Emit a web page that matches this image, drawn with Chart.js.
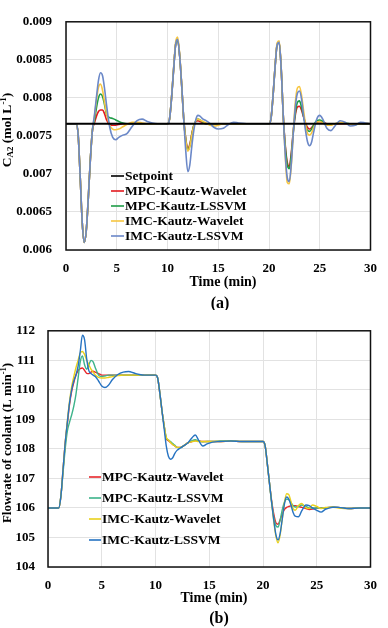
<!DOCTYPE html>
<html>
<head>
<meta charset="utf-8">
<script src="https://cdn.jsdelivr.net/npm/chart.js@4.4.1/dist/chart.umd.min.js"></script>
<style>
html,body{margin:0;padding:0;background:#fff;}
#wa{position:absolute;left:0;top:0;width:388px;height:310px;}
#wb{position:absolute;left:0;top:310px;width:388px;height:318px;}
</style>
</head>
<body>
<div id="wa"><canvas id="ca" width="388" height="310"></canvas></div>
<div id="wb"><canvas id="cb" width="388" height="318"></canvas></div>
<script>
// ---------- Chart (a): concentration C_A2 ----------
const xTicks = [0, 5, 10, 15, 20, 25, 30];
const yTicksA = ["0.006", "0.0065", "0.007", "0.0075", "0.008", "0.0085", "0.009"];
const setpointTimeA = [0, 30];
const setpointA = [0.00766, 0.00766];
const timeA = [
  0, 1.0,
  1.2, 1.4, 1.6, 1.8, 2.0, 2.2, 2.4, 2.6,
  2.8, 3.0, 3.2, 3.4, 3.6, 3.8, 4.0,
  4.3, 4.6, 4.9, 5.2, 5.6, 6.0, 6.5, 7.0, 7.5, 8.0, 8.5, 9.0,
  10.0, 10.2, 10.4, 10.6, 10.8, 11.0, 11.2, 11.4, 11.6,
  11.8, 12.0, 12.2, 12.4, 12.6, 12.8, 13.0, 13.2,
  13.5, 13.8, 14.2, 14.6, 15.0, 15.5, 16.0, 16.5, 17.0, 18.0,
  20.0, 20.2, 20.4, 20.6, 20.8, 21.0, 21.2, 21.4,
  21.6, 21.8, 22.0, 22.2, 22.4, 22.6, 22.8, 23.0, 23.2, 23.4,
  23.6, 23.8, 24.0, 24.2, 24.4, 24.7, 25.0, 25.3, 25.7, 26.1,
  26.5, 27.0, 27.5, 28.0, 28.5, 29.0, 29.5, 30.0
];
const mpcWaveletA = [
  0.00766, 0.00766,
  0.00751, 0.00696, 0.00636, 0.00610, 0.00626, 0.00669, 0.00719, 0.00757,
  0.00767, 0.00776, 0.00782, 0.00784, 0.00784, 0.00779, 0.00771,
  0.00765, 0.00764, 0.00764, 0.00765, 0.00766, 0.00766, 0.00766, 0.00766, 0.00766, 0.00766, 0.00766, 0.00766,
  0.00766, 0.00772, 0.00800, 0.00837, 0.00870, 0.00876, 0.00855, 0.00816, 0.00772,
  0.00746, 0.00733, 0.00739, 0.00753, 0.00764, 0.00769, 0.00770, 0.00769,
  0.00767, 0.00766, 0.00766, 0.00766, 0.00766, 0.00766, 0.00766, 0.00766, 0.00766, 0.00766,
  0.00766, 0.00773, 0.00803, 0.00841, 0.00870, 0.00873, 0.00839, 0.00778,
  0.00738, 0.00715, 0.00710, 0.00728, 0.00757, 0.00778, 0.00788, 0.00789, 0.00784, 0.00775,
  0.00767, 0.00761, 0.00759, 0.00761, 0.00764, 0.00768, 0.00769, 0.00768, 0.00766, 0.00765,
  0.00766, 0.00766, 0.00766, 0.00766, 0.00766, 0.00766, 0.00766, 0.00766
];
const mpcLssvmA = [
  0.00766, 0.00766,
  0.00751, 0.00696, 0.00636, 0.00610, 0.00626, 0.00669, 0.00719, 0.00757,
  0.00770, 0.00787, 0.00800, 0.00805, 0.00802, 0.00791, 0.00778,
  0.00774, 0.00773, 0.00771, 0.00769, 0.00767, 0.00766, 0.00766, 0.00766, 0.00766, 0.00766, 0.00766, 0.00766,
  0.00766, 0.00772, 0.00800, 0.00837, 0.00870, 0.00876, 0.00855, 0.00816, 0.00772,
  0.00745, 0.00731, 0.00737, 0.00752, 0.00764, 0.00770, 0.00772, 0.00771,
  0.00768, 0.00766, 0.00766, 0.00766, 0.00766, 0.00766, 0.00766, 0.00766, 0.00766, 0.00766,
  0.00766, 0.00773, 0.00803, 0.00841, 0.00870, 0.00873, 0.00839, 0.00778,
  0.00736, 0.00712, 0.00707, 0.00725, 0.00756, 0.00781, 0.00794, 0.00796, 0.00788, 0.00776,
  0.00765, 0.00757, 0.00756, 0.00759, 0.00764, 0.00770, 0.00771, 0.00769, 0.00765, 0.00765,
  0.00766, 0.00767, 0.00767, 0.00766, 0.00765, 0.00766, 0.00766, 0.00766
];
const imcWaveletA = [
  0.00766, 0.00766,
  0.00751, 0.00696, 0.00636, 0.00610, 0.00626, 0.00669, 0.00719, 0.00757,
  0.00775, 0.00797, 0.00814, 0.00818, 0.00810, 0.00794, 0.00779,
  0.00764, 0.00759, 0.00758, 0.00759, 0.00762, 0.00765, 0.00768, 0.00768, 0.00767, 0.00766, 0.00766, 0.00766,
  0.00766, 0.00772, 0.00801, 0.00839, 0.00873, 0.00880, 0.00857, 0.00816, 0.00772,
  0.00744, 0.00730, 0.00736, 0.00751, 0.00763, 0.00770, 0.00772, 0.00771,
  0.00769, 0.00767, 0.00764, 0.00763, 0.00764, 0.00766, 0.00766, 0.00766, 0.00766, 0.00766,
  0.00766, 0.00773, 0.00803, 0.00842, 0.00872, 0.00875, 0.00840, 0.00778,
  0.00724, 0.00689, 0.00687, 0.00712, 0.00757, 0.00795, 0.00813, 0.00815, 0.00804, 0.00784,
  0.00765, 0.00753, 0.00751, 0.00754, 0.00761, 0.00768, 0.00769, 0.00767, 0.00764, 0.00764,
  0.00766, 0.00768, 0.00767, 0.00765, 0.00765, 0.00766, 0.00767, 0.00766
];
const imcLssvmA = [
  0.00766, 0.00766,
  0.00751, 0.00696, 0.00636, 0.00610, 0.00626, 0.00669, 0.00719, 0.00757,
  0.00777, 0.00801, 0.00823, 0.00833, 0.00829, 0.00812, 0.00790,
  0.00762, 0.00748, 0.00745, 0.00748, 0.00751, 0.00753, 0.00762, 0.00770, 0.00772, 0.00769, 0.00767, 0.00766,
  0.00766, 0.00772, 0.00800, 0.00837, 0.00870, 0.00877, 0.00855, 0.00816, 0.00772,
  0.00730, 0.00703, 0.00712, 0.00737, 0.00758, 0.00772, 0.00777, 0.00776,
  0.00772, 0.00770, 0.00766, 0.00761, 0.00759, 0.00760, 0.00765, 0.00768, 0.00767, 0.00766,
  0.00766, 0.00773, 0.00803, 0.00841, 0.00870, 0.00873, 0.00839, 0.00778,
  0.00726, 0.00695, 0.00690, 0.00714, 0.00755, 0.00789, 0.00806, 0.00809, 0.00799, 0.00777,
  0.00757, 0.00742, 0.00737, 0.00742, 0.00755, 0.00772, 0.00777, 0.00772, 0.00760, 0.00757,
  0.00763, 0.00770, 0.00768, 0.00763, 0.00764, 0.00768, 0.00767, 0.00766
];

// ---------- Chart (b): coolant flowrate ----------
const yTicksB = ["104", "105", "106", "107", "108", "109", "110", "111", "112"];
const timeB = [
  0, 1.0,
  1.2, 1.4, 1.6, 1.8, 2.0, 2.2, 2.4, 2.6,
  2.8, 3.0, 3.2, 3.4, 3.6, 3.8, 4.0, 4.2, 4.4,
  4.7, 5.0, 5.3, 5.6, 6.0, 6.5, 7.0, 7.5, 8.0, 8.5, 9.0,
  10.0, 10.2, 10.4, 10.6, 10.8, 11.0, 11.2, 11.4, 11.6, 11.8,
  12.0, 12.3, 12.6, 13.0, 13.4, 13.7, 14.0, 14.4, 14.8, 15.3,
  16.0, 17.0, 18.0, 20.0,
  20.2, 20.4, 20.6, 20.8, 21.0, 21.2, 21.4, 21.6, 21.8,
  22.0, 22.2, 22.4, 22.6, 22.8, 23.0, 23.3, 23.6,
  24.0, 24.3, 24.6, 25.0, 25.4, 25.8, 26.5, 27.0,
  28.0, 29.0, 30.0
];
const mpcWaveletB = [
  106, 106,
  106.4, 107.3, 108.2, 108.85, 109.5, 109.95, 110.25, 110.5,
  110.65, 110.72, 110.74, 110.66, 110.56, 110.55, 110.6, 110.63, 110.6,
  110.55, 110.5, 110.5, 110.5, 110.5, 110.5, 110.5, 110.5, 110.5, 110.5, 110.5,
  110.5, 110.4, 109.9, 109.3, 108.8, 108.35, 108.28, 108.22, 108.15, 108.1,
  108.05, 108.05, 108.1, 108.2, 108.25, 108.28, 108.27, 108.25, 108.25, 108.25,
  108.25, 108.27, 108.25, 108.25,
  108.1, 107.5, 106.85, 106.25, 105.8, 105.5, 105.45, 105.6, 105.8,
  105.95, 106.02, 106.05, 106.07, 106.08, 106.08, 106.05, 106.02,
  105.98, 105.95, 105.96, 106.0, 106.0, 106.0, 106.03, 106.02,
  105.98, 106.0, 106.0
];
const mpcLssvmB = [
  106, 106,
  106.4, 107.2, 108.0, 108.6, 108.9, 109.15, 109.45, 109.85,
  110.4, 110.95, 111.15, 110.85, 110.7, 110.85, 111.0, 110.95, 110.75,
  110.5, 110.45, 110.47, 110.5, 110.5, 110.5, 110.5, 110.5, 110.5, 110.5, 110.5,
  110.5, 110.4, 109.9, 109.3, 108.8, 108.38, 108.3, 108.25, 108.18, 108.12,
  108.05, 108.04, 108.1, 108.2, 108.28, 108.31, 108.27, 108.24, 108.25, 108.25,
  108.27, 108.28, 108.25, 108.25,
  108.1, 107.5, 106.85, 106.2, 105.7, 105.4, 105.35, 105.6, 105.95,
  106.2, 106.3, 106.28, 106.18, 106.08, 106.03, 106.05, 106.1,
  106.05, 106.0, 106.0, 106.0, 106.0, 106.0, 106.03, 106.02,
  105.98, 106.0, 106.0
];
const imcWaveletB = [
  106, 106,
  106.4, 107.3, 108.2, 108.95, 109.6, 110.1, 110.45, 110.75,
  111.0, 111.25, 111.3, 111.2, 111.0, 110.85, 110.7, 110.6, 110.5,
  110.42, 110.4, 110.4, 110.42, 110.45, 110.48, 110.5, 110.5, 110.5, 110.5, 110.5,
  110.5, 110.4, 109.9, 109.3, 108.8, 108.4, 108.3, 108.22, 108.15, 108.1,
  108.05, 108.05, 108.1, 108.2, 108.25, 108.27, 108.25, 108.25, 108.25, 108.25,
  108.25, 108.27, 108.25, 108.25,
  108.1, 107.5, 106.85, 106.2, 105.55, 105.05, 104.82, 105.1, 105.65,
  106.2, 106.48, 106.45, 106.22, 105.98, 105.92, 106.08, 106.15,
  106.0, 105.98, 106.1, 106.05, 105.98, 106.02, 106.02, 106.0,
  105.98, 106.0, 106.0
];
const imcLssvmB = [
  106, 106,
  106.4, 107.3, 108.2, 108.9, 109.55, 110.0, 110.3, 110.5,
  110.8, 111.3, 111.85, 111.7, 111.05, 110.65, 110.55, 110.5, 110.45,
  110.3, 110.13, 110.08, 110.15, 110.35, 110.52, 110.6, 110.62, 110.57, 110.52, 110.5,
  110.5, 110.4, 109.9, 109.3, 108.7, 108.1, 107.75, 107.65, 107.7, 107.85,
  107.95, 108.03, 108.1, 108.2, 108.38, 108.47, 108.3, 108.1, 108.17, 108.23,
  108.25, 108.27, 108.25, 108.25,
  108.1, 107.5, 106.85, 106.2, 105.6, 105.1, 104.92, 105.15, 105.65,
  106.15, 106.37, 106.3, 106.1, 105.85, 105.72, 105.7, 105.9,
  106.1, 106.08, 106.0, 105.92, 105.86, 105.95, 106.02, 106.02,
  105.98, 106.0, 106.0
];

const FONT = "'Liberation Serif', 'Times New Roman', serif";
const colA = {sp: '#000000', mw: '#e3191f', ml: '#1f9d48', iw: '#f7c640', il: '#6b88c8'};
const colB = {mw: '#e8262b', ml: '#3db38a', iw: '#e9d11c', il: '#2673c2'};

function pts(t, v) { return t.map((x, i) => ({x: x, y: v[i]})); }
function ds(label, t, v, color, order, w) {
  return {label: label, data: pts(t, v), borderColor: color, backgroundColor: color,
    borderWidth: w, pointRadius: 0, cubicInterpolationMode: 'monotone', order: order, fill: false};
}

function drawRich(ctx, parts, cx, cy, rotate) {
  ctx.save();
  ctx.translate(cx, cy);
  if (rotate) ctx.rotate(-Math.PI / 2);
  let total = 0;
  parts.forEach(p => { ctx.font = 'bold ' + p.size + 'px ' + FONT; p.w = ctx.measureText(p.text).width; total += p.w; });
  let x = -total / 2;
  ctx.fillStyle = '#000';
  ctx.textBaseline = 'middle';
  ctx.textAlign = 'left';
  parts.forEach(p => { ctx.font = 'bold ' + p.size + 'px ' + FONT; ctx.fillText(p.text, x, p.dy || 0); x += p.w; });
  ctx.restore();
}

function makePlugin(cfg) {
  return {
    id: 'deco',
    afterDatasetsDraw(chart) {
      const ctx = chart.ctx, a = chart.chartArea;
      ctx.save();
      ctx.strokeStyle = '#111';
      ctx.lineWidth = 1.5;
      ctx.strokeRect(a.left, a.top, a.right - a.left, a.bottom - a.top);
      // legend
      ctx.font = 'bold 13.5px ' + FONT;
      ctx.textBaseline = 'middle';
      ctx.textAlign = 'left';
      cfg.legend.forEach((it, i) => {
        const y = cfg.legY + i * cfg.legStep;
        ctx.strokeStyle = it.color; ctx.lineWidth = 1.6;
        ctx.beginPath(); ctx.moveTo(cfg.legX, y); ctx.lineTo(cfg.legX + cfg.legLen, y); ctx.stroke();
        ctx.fillStyle = '#000';
        ctx.fillText(it.label, cfg.legX + cfg.legLen + 1, y + 0.5);
      });
      ctx.restore();
      drawRich(ctx, [{text: 'Time (min)', size: 14}], cfg.xTitle[0], cfg.xTitle[1], false);
      drawRich(ctx, [{text: cfg.tag, size: 16}], cfg.tagPos[0], cfg.tagPos[1], false);
      drawRich(ctx, cfg.yTitle, cfg.yTitlePos[0], cfg.yTitlePos[1], true);
    }
  };
}

function makeOptions(yMin, yMax, yStep, yLabels, yWidth, pad) {
  return {
    responsive: false, animation: false, devicePixelRatio: 1,
    layout: {padding: pad},
    plugins: {legend: {display: false}, tooltip: {enabled: false}},
    scales: {
      x: {type: 'linear', min: 0, max: 30,
        afterBuildTicks(s) { s.ticks = xTicks.map(v => ({value: v})); },
        afterFit(s) { s.height = pad.xh; },
        grid: {color: '#e2e2e2', lineWidth: 1, drawTicks: false},
        border: {display: false},
        ticks: {padding: 11, color: '#000', maxRotation: 0, autoSkip: false,
          font: {family: FONT, size: 13, weight: 'bold'}, callback: (v) => String(v)}},
      y: {type: 'linear', min: yMin, max: yMax,
        afterBuildTicks(s) { s.ticks = yLabels.map((l, i) => ({value: yMin + i * yStep})); },
        afterFit(s) { s.width = yWidth; },
        grid: {color: '#e2e2e2', lineWidth: 1, drawTicks: false},
        border: {display: false},
        ticks: {padding: pad.yp, color: '#000', autoSkip: false,
          font: {family: FONT, size: 13, weight: 'bold'}, callback: (v, i) => yLabels[i]}}
    }
  };
}

new Chart(document.getElementById('ca'), {
  type: 'line',
  data: {datasets: [
    ds('Setpoint', setpointTimeA, setpointA, colA.sp, 0, 1.8),
    ds('MPC-Kautz-Wavelet', timeA, mpcWaveletA, colA.mw, 4, 1.6),
    ds('MPC-Kautz-LSSVM', timeA, mpcLssvmA, colA.ml, 3, 1.6),
    ds('IMC-Kautz-Wavelet', timeA, imcWaveletA, colA.iw, 2, 1.6),
    ds('IMC-Kautz-LSSVM', timeA, imcLssvmA, colA.il, 1, 1.6)
  ]},
  options: makeOptions(0.006, 0.009, 0.0005, yTicksA, 66, {left: 0, right: 7, top: 8, bottom: 0, xh: 60, yp: 14}),
  plugins: [makePlugin({
    legend: [
      {label: 'Setpoint', color: colA.sp},
      {label: 'MPC-Kautz-Wavelet', color: colA.mw},
      {label: 'MPC-Kautz-LSSVM', color: colA.ml},
      {label: 'IMC-Kautz-Wavelet', color: colA.iw},
      {label: 'IMC-Kautz-LSSVM', color: colA.il}
    ],
    legX: 111, legLen: 13, legY: 176, legStep: 15,
    xTitle: [223, 282], tag: '(a)', tagPos: [220, 304],
    yTitle: [{text: 'C', size: 13.5}, {text: 'A2', size: 9, dy: 3}, {text: ' (mol L', size: 13.5}, {text: '-1', size: 9, dy: -4}, {text: ')', size: 13.5}],
    yTitlePos: [8, 130]
  })]
});

new Chart(document.getElementById('cb'), {
  type: 'line',
  data: {datasets: [
    ds('MPC-Kautz-Wavelet', timeB, mpcWaveletB, colB.mw, 4, 1.4),
    ds('MPC-Kautz-LSSVM', timeB, mpcLssvmB, colB.ml, 3, 1.4),
    ds('IMC-Kautz-Wavelet', timeB, imcWaveletB, colB.iw, 2, 1.4),
    ds('IMC-Kautz-LSSVM', timeB, imcLssvmB, colB.il, 1, 1.4)
  ]},
  options: makeOptions(104, 112, 1, yTicksB, 48, {left: 0, right: 7, top: 16, bottom: 0, xh: 61, yp: 13}),
  plugins: [makePlugin({
    legend: [
      {label: 'MPC-Kautz-Wavelet', color: colB.mw},
      {label: 'MPC-Kautz-LSSVM', color: colB.ml},
      {label: 'IMC-Kautz-Wavelet', color: colB.iw},
      {label: 'IMC-Kautz-LSSVM', color: colB.il}
    ],
    legX: 89, legLen: 12, legY: 167, legStep: 21,
    xTitle: [214, 288], tag: '(b)', tagPos: [219, 309],
    yTitle: [{text: 'Flowrate of coolant (L min', size: 13}, {text: '-1', size: 8.5, dy: -4}, {text: ')', size: 13}],
    yTitlePos: [8, 133]
  })]
});
</script>
</body>
</html>
